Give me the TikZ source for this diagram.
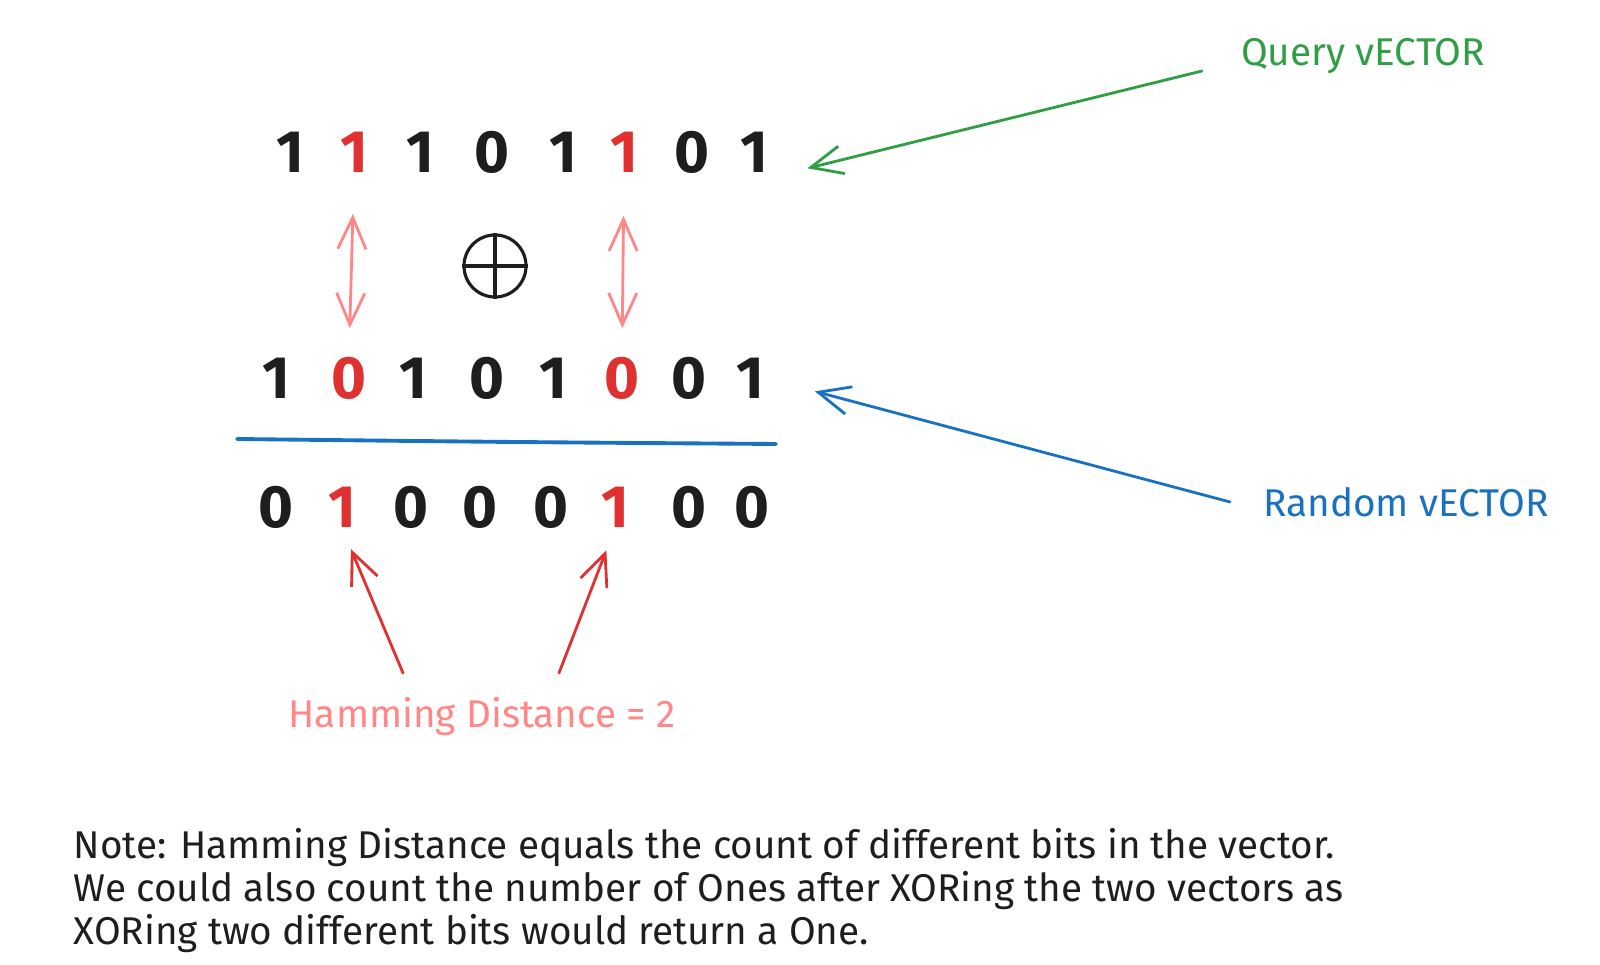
\documentclass[tikz,border=0pt]{standalone}
\usepackage{fontspec}
\setmainfont{Fira Sans}
\usepackage{xcolor}
\usetikzlibrary{arrows.meta,positioning}

\definecolor{inkblack}{HTML}{1E1E1E}
\definecolor{inkred}{HTML}{E03131}
\definecolor{inkpink}{HTML}{FF8787}
\definecolor{inkgreen}{HTML}{2F9E44}
\definecolor{inkblue}{HTML}{1971C2}

\begin{document}
\begin{tikzpicture}[x=0.01cm,y=-0.01cm,
  bit/.style={font=\fontsize{17}{20}\selectfont\bfseries, inner sep=0pt, text=inkblack},
  tag/.style={font=\fontsize{11}{13}\selectfont, inner sep=0pt},
  barb/.style={-{Straight Barb[length=9pt,width=8pt]}, line width=0.8pt, line cap=round},
  twobarb/.style={{Straight Barb[length=9pt,width=8pt]}-{Straight Barb[length=9pt,width=8pt]}, line width=0.8pt, line cap=round}]
\useasboundingbox (0,0) rectangle (1600,965);

% query vector
\foreach \x/\b/\c [count=\i] in {290/1/inkblack,354/1/inkred,420/1/inkblack,492/0/inkblack,
    563/1/inkblack,624/1/inkred,692/0/inkblack,754/1/inkblack}
  \node[bit,text=\c] (q\i) at (\x,152) {\b};

% random vector
\foreach \x/\b/\c [count=\i] in {276/1/inkblack,349/0/inkred,413/1/inkblack,487/0/inkblack,
    553/1/inkblack,622/0/inkred,689/0/inkblack,750/1/inkblack}
  \node[bit,text=\c] (r\i) at (\x,378) {\b};

% xor result
\foreach \x/\b/\c [count=\i] in {276/0/inkblack,342/1/inkred,411/0/inkblack,480/0/inkblack,
    551/0/inkblack,615/1/inkred,689/0/inkblack,752/0/inkblack}
  \node[bit,text=\c] (s\i) at (\x,507) {\b};

% xor sign
\node[draw=inkblack, circle, line width=0.9pt, minimum size=0.62cm, inner sep=0pt] (xor) at (495,266) {};
\draw[inkblack, line width=0.9pt] (xor.north) -- (xor.south);
\draw[inkblack, line width=0.9pt] (xor.west) -- (xor.east);

% differing bits
\draw[twobarb, inkpink, shorten <=0.41cm, shorten >=0.28cm] (q2.south) -- (r2.north);
\draw[twobarb, inkpink, shorten <=0.43cm, shorten >=0.28cm] (q6.south) -- (r6.north);

% separator
\draw[inkblue, line width=1.1pt, line cap=round] (237,439) .. controls (500,442) .. (776,444);

% labels
\node[tag, text=inkgreen] (qlabel) at (1363,56) {Query vECTOR};
\node[tag, text=inkblue] (rlabel) at (1406,502) {Random vECTOR};
\node[tag, text=inkpink] (hd) at (482,717) {Hamming Distance = 2};

\coordinate (qtail) at (1202,71);
\coordinate (rtail) at (1230,502);
\coordinate (hdl) at (403,673);
\coordinate (hdr) at (559,673);

\draw[barb, inkgreen, shorten >=0.4cm] (qtail) -- ([yshift=-0.05cm]q8.south east);
\draw[barb, inkblue, shorten >=0.52cm] (rtail) -- (r8.east);
\draw[barb, inkred, shorten >=0.23cm] (hdl) -- (s2.south);
\draw[barb, inkred, shorten >=0.24cm] (hdr) -- (s6.south);

% note
\node[anchor=north west, align=left, inner sep=0pt, text=inkblack,
  font=\fontsize{11}{12.2}\selectfont] (note) at (73,828)
  {Note: Hamming Distance equals the count of different bits in the vector.\\
   We could also count the number of Ones after XORing the two vectors as\\
   XORing two different bits would return a One.};
\end{tikzpicture}
\end{document}
